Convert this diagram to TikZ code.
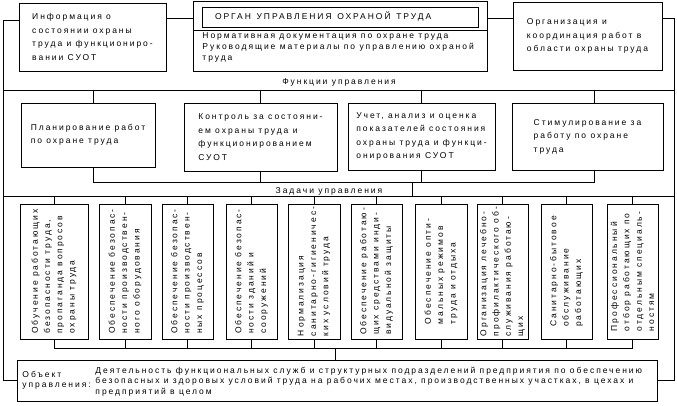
\documentclass[tikz,border=0pt]{standalone}
\usepackage{fontspec}
\setmainfont{Liberation Sans}[LetterSpace=23]
\usetikzlibrary{calc}

\begin{document}
\begin{tikzpicture}[x=1pt, y=-1pt, line width=0.9pt,
		box/.style={draw, rectangle, inner sep=0pt, align=left, font=\fontsize{8.5}{13.5}\selectfont},
		tasktext/.style={rotate=90, align=left, inner sep=0pt, font=\fontsize{8.5}{12.3}\selectfont},
		caption/.style={inner sep=0pt, align=left, font=\fontsize{8.5}{10.5}\selectfont}]
		%%%%% START %%%%%
		
		\useasboundingbox (0,0) rectangle (677,406);
		
		\coordinate (busL) at (3,20);
		\coordinate (busR) at (674,18);
		\coordinate (fun) at (0,90);
		\coordinate (fb) at (412,182);
		\coordinate (task) at (0,196);
		\coordinate (tb) at (0,348);
		\coordinate (ob) at (335,348);
		
		\node[box, minimum width=147pt, minimum height=68pt] (info) at (92.5,37) {Информация о\\состоянии охраны\\труда и функциониро-\\вании СУОТ};
		\node[box, minimum width=294pt, minimum height=70pt] (organ) at (340,36) {};
		\node[box, minimum width=276pt, minimum height=20pt, text width=250pt, inner xsep=13pt] (title) at (340,17) {ОРГАН\ \ УПРАВЛЕНИЯ\ \ ОХРАНОЙ\ \ ТРУДА};
		\draw (organ.west |- 0,30) -- (organ.east |- 0,30);
		\node[caption, font=\fontsize{8.5}{11}\selectfont, anchor=west] (norm) at (202,47) {Нормативная документация по охране труда\\Руководящие материалы по управлению охраной\\труда};
		\node[box, minimum width=149pt, minimum height=68pt] (coord) at (587.5,36) {Организация и\\координация работ в\\области охраны труда};
		
		\draw (info.east |- busR) -- (organ.west |- busR);
		\draw (organ.east |- busR) -- (coord.west |- busR);
		
		\draw (busL |- fun) -- (busR |- fun);
		\node[caption] (funlbl) at (339,82) {Функции управления};
		
		\node[box, minimum width=134pt, minimum height=64pt] (f1) at (88,135) {Планирование работ\\по охране труда};
		\node[box, minimum width=153pt, minimum height=68pt] (f2) at (260.5,137) {Контроль за состояни-\\ем охраны труда и\\функционированием\\СУОТ};
		\node[box, minimum width=147pt, minimum height=67pt] (f3) at (421.5,136.5) {Учет, анализ и оценка\\показателей состояния\\охраны труда и функци-\\онирования СУОТ};
		\node[box, minimum width=151pt, minimum height=67pt] (f4) at (587.5,136.5) {Стимулирование за\\работу по охране\\труда};
		
		\draw ([xshift=5pt]f1.north) -- ([xshift=5pt]f1.north |- fun);
		\draw (f2.north) -- (f2.north |- fun);
		\draw (f3.north) -- (f3.north |- fun);
		\draw ([xshift=7pt]f4.north) -- ([xshift=7pt]f4.north |- fun);
		\draw ([xshift=5pt]f1.south) |- ([xshift=7pt]f4.south |- fb) -- ([xshift=7pt]f4.south);
		\draw (f2.south) -- (f2.south |- fb);
		\draw (f3.south) -- (f3.south |- fb);
		\draw (fb) -- (fb |- task);
		
		\draw (busL |- task) -- (busR |- task);
		\node[caption] (tasklbl) at (329,191) {Задачи управления};
		
		\node[box, minimum width=68pt, minimum height=135pt] (t1) at (54,271.5) {};
		\node[box, minimum width=52pt, minimum height=135pt] (t2) at (125,271.5) {};
		\node[box, minimum width=51pt, minimum height=135pt] (t3) at (187.5,271.5) {};
		\node[box, minimum width=51pt, minimum height=135pt] (t4) at (251.5,271.5) {};
		\node[box, minimum width=52pt, minimum height=135pt] (t5) at (314,271.5) {};
		\node[box, minimum width=51pt, minimum height=135pt] (t6) at (376.5,271.5) {};
		\node[box, minimum width=52pt, minimum height=135pt] (t7) at (441,271.5) {};
		\node[box, minimum width=51pt, minimum height=135pt] (t8) at (502.5,271.5) {};
		\node[box, minimum width=51pt, minimum height=135pt] (t9) at (566.5,271.5) {};
		\node[box, minimum width=51pt, minimum height=135pt] (t10) at (632.5,271.5) {};
		
		\node[tasktext] (t1txt) at (t1) {Обучение работающих\\безопасности труда,\\пропаганда вопросов\\охраны труда};
		\node[tasktext] (t2txt) at (t2) {Обеспечение безопас-\\ности производствен-\\ного оборудования};
		\node[tasktext] (t3txt) at (t3) {Обеспечение безопас-\\ности производствен-\\ных процессов};
		\node[tasktext] (t4txt) at (t4) {Обеспечение безопас-\\ности зданий и\\сооружений};
		\node[tasktext] (t5txt) at (t5) {Нормализация\\санитарно-гигиеничес-\\ких условий труда};
		\node[tasktext] (t6txt) at (t6) {Обеспечение работаю-\\щих средствами инди-\\видуальной защиты};
		\node[tasktext] (t7txt) at (t7) {Обеспечение опти-\\мальных режимов\\труда и отдыха};
		\node[tasktext] (t8txt) at (t8) {Организация лечебно-\\профилактического об-\\служивания работаю-\\щих};
		\node[tasktext] (t9txt) at (t9) {Санитарно-бытовое\\обслуживание\\работающих};
		\node[tasktext] (t10txt) at (t10) {Профессиональный\\отбор работающих по\\отдельным специаль-\\ностям};
		
		\draw (t1.north) -- (t1.north |- task);
		\draw (t2.north) -- (t2.north |- task);
		\draw (t3.north) -- (t3.north |- task);
		\draw (t4.north) -- (t4.north |- task);
		\draw (t5.north) -- (t5.north |- task);
		\draw (t6.north) -- (t6.north |- task);
		\draw (t7.north) -- (t7.north |- task);
		\draw (t8.north) -- (t8.north |- task);
		\draw (t9.north) -- (t9.north |- task);
		\draw (t10.north) -- (t10.north |- task);
		
		\draw (t1.south) |- (t10.south |- tb) -- (t10.south);
		\draw (t2.south) -- (t2.south |- tb);
		\draw (t3.south) -- (t3.south |- tb);
		\draw (t4.south) -- (t4.south |- tb);
		\draw (t5.south) -- (t5.south |- tb);
		\draw (t6.south) -- (t6.south |- tb);
		\draw (t7.south) -- (t7.south |- tb);
		\draw (t8.south) -- (t8.south |- tb);
		\draw (t9.south) -- (t9.south |- tb);
		
		\node[box, minimum width=640pt, minimum height=41pt] (object) at (337,380.5) {};
		\node[caption, anchor=west] (objname) at (22,380.5) {Объект\\управления:};
		\node[caption, anchor=west] (objtext) at (95,381.5) {Деятельность функциональных служб и структурных подразделений предприятия по обеспечению\\безопасных и здоровых условий труда на рабочих местах, производственных участках, в цехах и\\предприятий в целом};
		\draw (ob) -- (ob |- object.north);
		
		\draw (info.west |- busL) -- (busL) |- (object.west);
		\draw (coord.east |- busR) -- (busR) |- (object.east);
		
		%%%%% END %%%%%
	\end{tikzpicture}
\end{document}
